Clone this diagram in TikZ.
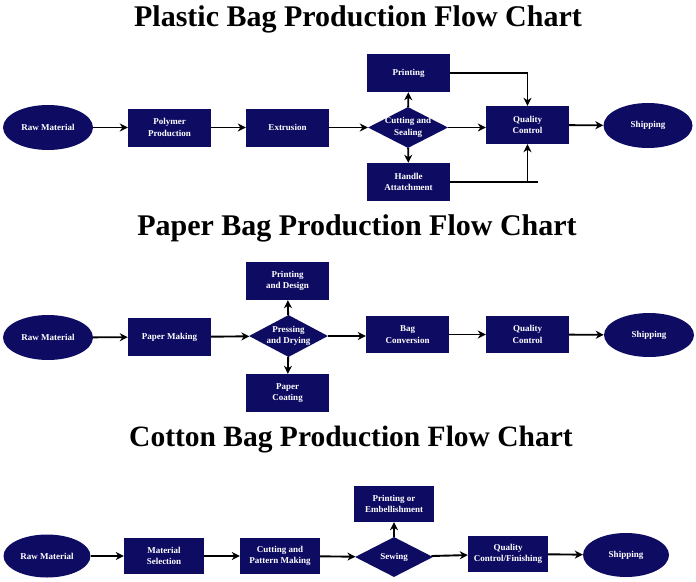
\documentclass[tikz,border=0pt]{standalone}
\usepackage{fontspec}
\setmainfont{Liberation Serif}
\usetikzlibrary{shapes.geometric,arrows.meta}
\definecolor{navy}{RGB}{14,11,99}
\begin{document}
\begin{tikzpicture}[x=1pt,y=-1pt,
  nfont/.style={font=\bfseries\fontsize{9}{11.5}\selectfont},
  box/.style={nfont,fill=navy,text=white,minimum width=83pt,minimum height=38pt,inner sep=0pt,align=center},
  ell/.style={nfont,ellipse,fill=navy,text=white,minimum width=90pt,minimum height=45pt,inner sep=0pt,align=center},
  dia/.style={diamond,fill=navy,minimum width=80pt,minimum height=41pt,inner sep=0pt},
  dtext/.style={nfont,text=white,align=center,inner sep=0pt},
  arr/.style={-{Stealth[length=8pt,width=8pt,inset=2.5pt]},line width=1.9pt},
  ln/.style={line width=1.9pt},
  title/.style={font=\bfseries\fontsize{30}{34}\selectfont,inner sep=0pt}
]
\fill[white] (0,0) rectangle (696,581);
\useasboundingbox (0,0) rectangle (696,581);

% ---------- Plastic ----------
\node[title] (t1) at (358,19) {Plastic Bag Production Flow Chart};
\node[ell] (p1) at (48,127.5) {Raw Material};
\node[box] (p2) at (169.5,127.5) {Polymer\\Production};
\node[box] (p3) at (287.5,127.5) {Extrusion};
\node[dia,label={[dtext]center:Cutting and\\Sealing}] (p4) at (408,127.5) {};
\node[box] (p5) at (408.5,73) {Printing};
\node[box] (p6) at (408.5,182) {Handle\\Attatchment};
\node[box] (p7) at (527.5,125) {Quality\\Control};
\node[ell,minimum width=89pt] (p8) at (648,125.5) {Shipping};
\coordinate (pend) at (538,182);
\draw[arr] (p1) -- (p2);
\draw[arr] (p2) -- (p3);
\draw[arr] (p3) -- (p4);
\draw[arr] (p4) -- (p5);
\draw[arr] (p4) -- (p6);
\draw[arr] (p4.east) -- (p7.west |- p4.east);
\draw[arr] (p5.east) -| (p7.north);
\draw[ln] (p6.east) -- (pend);
\draw[arr] (p7.south |- p6.east) -- (p7.south);
\draw[arr] (p7) -- (p8);

% ---------- Paper ----------
\node[title] (t2) at (357,228) {Paper Bag Production Flow Chart};
\node[ell] (q1) at (48,337.5) {Raw Material};
\node[box] (q2) at (169.5,337) {Paper Making};
\node[dia,minimum width=79pt,minimum height=42pt,label={[dtext]center:Pressing\\and Drying}] (q3) at (288.5,336) {};
\node[box] (q4) at (287.5,281) {Printing\\and Design};
\node[box] (q5) at (287.5,393) {Paper\\Coating};
\node[box,minimum height=37pt] (q6) at (407.5,334.5) {Bag\\Conversion};
\node[box,minimum height=37pt] (q7) at (527.5,334.5) {Quality\\Control};
\node[ell,minimum height=44pt] (q8) at (649,335) {Shipping};
\draw[arr] (q1) -- (q2);
\draw[arr] (q2) -- (q3);
\draw[arr] (q3) -- (q4);
\draw[arr] (q3) -- (q5);
\draw[arr] (q3.east) -- (q6.west |- q3.east);
\draw[arr] (q6) -- (q7);
\draw[arr] (q7) -- (q8);

% ---------- Cotton ----------
\node[title,font=\bfseries\fontsize{29.5}{34}\selectfont] (t3) at (351,440) {Cotton Bag Production Flow Chart};
\node[ell,minimum width=87pt,minimum height=43pt] (c1) at (47,556) {Raw Material};
\node[box,minimum width=80pt,minimum height=36pt] (c2) at (164,556) {Material\\Selection};
\node[box,minimum width=80pt,minimum height=36pt] (c3) at (280,556) {Cutting and\\Pattern Making};
\node[dia,minimum width=78pt,minimum height=40pt,label={[dtext]center:Sewing}] (c4) at (394,557) {};
\node[box,minimum width=80pt,minimum height=36pt] (c5) at (394,504) {Printing or\\Embellishment};
\node[box,minimum width=80pt,minimum height=36pt] (c6) at (508,554) {Quality\\Control/Finishing};
\node[ell,minimum width=86pt,minimum height=44pt] (c7) at (626,555) {Shipping};
\draw[arr] (c1) -- (c2);
\draw[arr] (c2) -- (c3);
\draw[arr] (c3) -- (c4);
\draw[arr] (c4) -- (c5);
\draw[arr] (c4) -- (c6);
\draw[arr] (c6) -- (c7);
\end{tikzpicture}
\end{document}
